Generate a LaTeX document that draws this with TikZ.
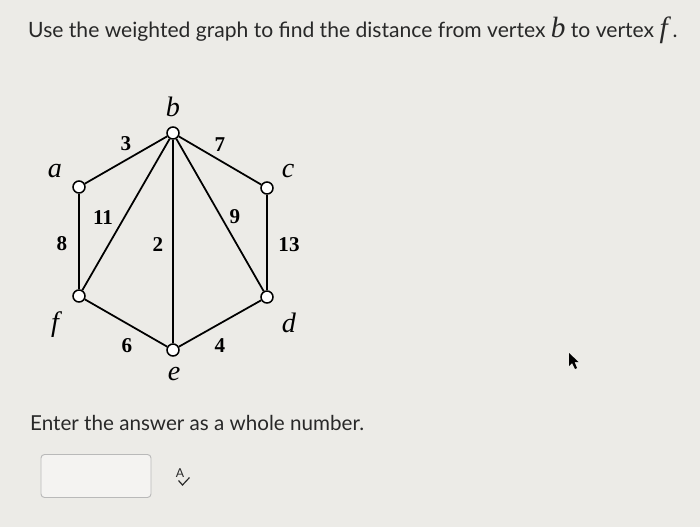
\documentclass[tikz,border=0pt]{standalone}
\usepackage{fontspec}
\setmainfont{Lato}
\newfontfamily\graphfont{Liberation Serif}
\definecolor{screen}{RGB}{236,235,231}
\definecolor{ink}{RGB}{40,40,40}

\begin{document}
\begin{tikzpicture}[x=0.03cm, y=-0.03cm,
	vertex/.style={draw, circle, fill=white, line width=1.3pt, inner sep=0pt, minimum size=0.36cm},
	vlabel/.style={inner sep=0pt, font=\graphfont\itshape\fontsize{24}{24}\selectfont},
	weight/.style={inner sep=0pt, font=\graphfont\bfseries\fontsize{18}{18}\selectfont},
	prompt/.style={inner sep=0pt, anchor=west, text=ink},
	every edge/.style={draw, line width=1.5pt}]
	\fill[screen] (0,0) rectangle (700,527);
	\useasboundingbox (0,0) rectangle (700,527);

	% question text
	\node[prompt, font=\fontsize{18}{20}\selectfont]	(question)	at (28,30)
		{Use the weighted graph to find the distance from vertex {\graphfont\itshape\fontsize{25}{25}\selectfont b} to vertex {\graphfont\itshape\fontsize{25}{25}\selectfont f\,}.};

	% vertices
	\node[vertex]	(b)		at (173,133)	{};
	\node[vertex]	(a)		at (79,187)		{};
	\node[vertex]	(c)		at (267,188)	{};
	\node[vertex]	(f)		at (79,296)		{};
	\node[vertex]	(d)		at (267,297)	{};
	\node[vertex]	(e)		at (173,350)	{};

	\node[vlabel]	(lb)	at (173,107)	{b};
	\node[vlabel]	(la)	at (55,171)		{a};
	\node[vlabel]	(lc)	at (288,171)	{c};
	\node[vlabel]	(lf)	at (55,325)		{f};
	\node[vlabel]	(ld)	at (289,323)	{d};
	\node[vlabel]	(le)	at (174,374)	{e};

	\path
	(b) 	edge 	(a)
			edge	(c)
			edge	(f)
			edge	(e)
			edge	(d)
	(a)		edge 	(f)
	(c)		edge	(d)
	(f)		edge	(e)
	(e)		edge	(d);

	% weights
	\node[weight]	(wab)	at (126,144)	{3};
	\node[weight]	(wbc)	at (220,145)	{7};
	\node[weight]	(wbf)	at (103,218)	{11};
	\node[weight]	(wbd)	at (235,217)	{9};
	\node[weight]	(waf)	at (62,244)		{8};
	\node[weight]	(wbe)	at (158,245)	{2};
	\node[weight]	(wcd)	at (289,245)	{13};
	\node[weight]	(wfe)	at (127,346)	{6};
	\node[weight]	(wed)	at (220,346)	{4};

	% answer area
	\node[prompt, font=\fontsize{17.6}{20}\selectfont]	(enter)	at (30,423)
		{Enter the answer as a whole number.};
	\node[draw=gray!55, fill=screen!60!white, rounded corners=3pt, line width=0.8pt,
		minimum width=3.3cm, minimum height=1.29cm]	(answer)	at (96,476)	{};
	\node[inner sep=0pt, text=ink, font=\fontsize{10.5}{10.5}\selectfont]	(spell)	at (180,473)	{A};
	\draw[ink, line width=1pt] (178.5,480.5) -- (182.5,485) -- (189.5,477.5);

	% mouse pointer
	\fill[black] (569,353) -- (569,366) -- (572,363) -- (575,369) -- (577,368)
		-- (574.5,362) -- (578.5,362) -- cycle;
\end{tikzpicture}
\end{document}
